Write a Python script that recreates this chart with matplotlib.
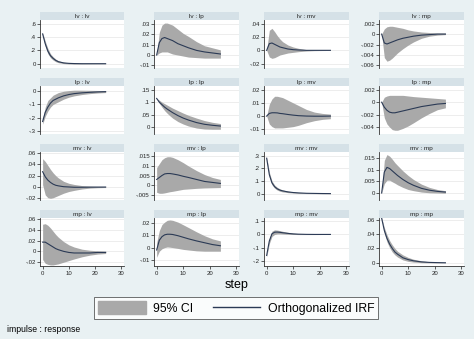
import matplotlib
matplotlib.use('Agg')
import matplotlib.pyplot as plt
import matplotlib.ticker as ticker
from matplotlib.patches import Patch
from matplotlib.lines import Line2D

plt.rcParams['font.family'] = ['Liberation Sans', 'DejaVu Sans']

steps = [0, 1, 2, 3, 4, 5, 6, 8, 10, 12, 15, 18, 21, 24]

# impulse : response panels (row by row)
panel_names = ['lv : lv', 'lv : lp', 'lv : mv', 'lv : mp',
               'lp : lv', 'lp : lp', 'lp : mv', 'lp : mp',
               'mv : lv', 'mv : lp', 'mv : mv', 'mv : mp',
               'mp : lv', 'mp : lp', 'mp : mv', 'mp : mp']

# row 1
lv_lv_irf = [0.45, 0.30, 0.19, 0.12, 0.08, 0.05, 0.03, 0.012, 0.005, 0.002, 0, 0, 0, 0]
lv_lv_lo = [0.43, 0.26, 0.15, 0.09, 0.055, 0.03, 0.015, 0.002, -0.004, -0.005, -0.004, -0.003, -0.002, -0.002]
lv_lv_hi = [0.47, 0.34, 0.23, 0.15, 0.105, 0.07, 0.045, 0.022, 0.012, 0.008, 0.005, 0.004, 0.003, 0.002]

lv_lp_irf = [0, 0.012, 0.016, 0.017, 0.016, 0.015, 0.014, 0.011, 0.009, 0.007, 0.0045, 0.003, 0.002, 0.001]
lv_lp_lo = [0, 0.002, 0.003, 0.003, 0.003, 0.002, 0.001, 0, -0.001, -0.002, -0.0025, -0.003, -0.003, -0.003]
lv_lp_hi = [0, 0.022, 0.029, 0.031, 0.031, 0.030, 0.029, 0.025, 0.021, 0.018, 0.013, 0.009, 0.007, 0.005]

lv_mv_irf = [0, 0.010, 0.011, 0.009, 0.007, 0.005, 0.004, 0.002, 0.001, 0.0005, 0, 0, 0, 0]
lv_mv_lo = [0, -0.010, -0.012, -0.011, -0.009, -0.007, -0.006, -0.004, -0.003, -0.002, -0.001, -0.0005, -0.0003, -0.0002]
lv_mv_hi = [0, 0.030, 0.033, 0.028, 0.022, 0.017, 0.013, 0.008, 0.005, 0.003, 0.001, 0.0005, 0.0003, 0.0002]

lv_mp_irf = [0, -0.0017, -0.0019, -0.0017, -0.0015, -0.0013, -0.0011, -0.0008, -0.0006, -0.0004, -0.0002, -0.0001, 0, 0]
lv_mp_lo = [0, -0.0045, -0.0052, -0.0050, -0.0046, -0.0041, -0.0036, -0.0028, -0.0021, -0.0015, -0.0008, -0.0004, -0.0002, -0.0001]
lv_mp_hi = [0, 0.0010, 0.0014, 0.0015, 0.0015, 0.0014, 0.0013, 0.0011, 0.0008, 0.0006, 0.0004, 0.0003, 0.0002, 0.0002]

# row 2
lp_lv_irf = [-0.23, -0.16, -0.12, -0.09, -0.07, -0.06, -0.05, -0.035, -0.025, -0.018, -0.012, -0.008, -0.005, -0.003]
lp_lv_lo = [-0.25, -0.19, -0.15, -0.12, -0.10, -0.09, -0.08, -0.06, -0.045, -0.035, -0.025, -0.018, -0.013, -0.010]
lp_lv_hi = [-0.21, -0.12, -0.07, -0.05, -0.03, -0.02, -0.01, 0, 0.005, 0.008, 0.008, 0.007, 0.006, 0.005]

lp_lp_irf = [0.115, 0.100, 0.090, 0.080, 0.072, 0.065, 0.058, 0.046, 0.036, 0.028, 0.018, 0.011, 0.007, 0.004]
lp_lp_lo = [0.115, 0.095, 0.080, 0.066, 0.055, 0.045, 0.036, 0.022, 0.012, 0.004, -0.004, -0.008, -0.009, -0.009]
lp_lp_hi = [0.115, 0.108, 0.100, 0.094, 0.088, 0.082, 0.076, 0.066, 0.056, 0.047, 0.036, 0.026, 0.019, 0.014]

lp_mv_irf = [0, 0.002, 0.0025, 0.0025, 0.0024, 0.002, 0.0018, 0.0012, 0.0007, 0.0003, 0, -0.0001, -0.0001, 0]
lp_mv_lo = [0, -0.006, -0.008, -0.009, -0.009, -0.009, -0.009, -0.0085, -0.008, -0.007, -0.005, -0.0035, -0.0025, -0.002]
lp_mv_hi = [0, 0.009, 0.013, 0.015, 0.015, 0.0145, 0.014, 0.012, 0.010, 0.008, 0.005, 0.003, 0.002, 0.0015]

lp_mp_irf = [0, -0.0008, -0.0013, -0.0016, -0.0017, -0.0017, -0.0016, -0.0014, -0.0012, -0.0010, -0.0007, -0.0005, -0.0003, -0.0002]
lp_mp_lo = [0, -0.0025, -0.0035, -0.0040, -0.0044, -0.0045, -0.0045, -0.0042, -0.0038, -0.0033, -0.0025, -0.0018, -0.0012, -0.0009]
lp_mp_hi = [0, 0.0008, 0.0010, 0.0011, 0.0011, 0.0011, 0.0011, 0.0011, 0.0010, 0.0009, 0.0008, 0.0007, 0.0006, 0.0005]

# row 3
mv_lv_irf = [0.027, 0.018, 0.012, 0.008, 0.005, 0.003, 0.002, 0.0005, 0, -0.0005, -0.0005, -0.0003, -0.0002, -0.0001]
mv_lv_lo = [0.004, -0.014, -0.019, -0.020, -0.019, -0.017, -0.015, -0.011, -0.008, -0.006, -0.0035, -0.002, -0.0013, -0.001]
mv_lv_hi = [0.050, 0.045, 0.038, 0.031, 0.025, 0.020, 0.016, 0.010, 0.0065, 0.0045, 0.0025, 0.0015, 0.001, 0.0007]

mv_lp_irf = [0.003, 0.004, 0.005, 0.0058, 0.006, 0.006, 0.0058, 0.0053, 0.0046, 0.004, 0.003, 0.002, 0.0015, 0.001]
mv_lp_lo = [-0.0035, -0.004, -0.004, -0.0038, -0.0035, -0.0032, -0.003, -0.0025, -0.002, -0.0018, -0.0015, -0.0013, -0.0012, -0.0011]
mv_lp_hi = [0.009, 0.011, 0.013, 0.014, 0.0145, 0.0145, 0.0142, 0.013, 0.0115, 0.0098, 0.0075, 0.0055, 0.004, 0.003]

mv_mv_irf = [0.28, 0.15, 0.085, 0.055, 0.038, 0.028, 0.022, 0.014, 0.009, 0.006, 0.003, 0.002, 0.001, 0.0005]
mv_mv_lo = [0.27, 0.13, 0.070, 0.043, 0.028, 0.019, 0.014, 0.008, 0.005, 0.003, 0.001, 0.0005, 0, 0]
mv_mv_hi = [0.29, 0.17, 0.100, 0.068, 0.050, 0.038, 0.030, 0.020, 0.014, 0.010, 0.006, 0.004, 0.0025, 0.0015]

mv_mp_irf = [0, 0.009, 0.011, 0.0105, 0.0095, 0.0085, 0.0075, 0.0058, 0.0044, 0.0033, 0.002, 0.0012, 0.0007, 0.0004]
mv_mp_lo = [0, 0.004, 0.0055, 0.0055, 0.0048, 0.0042, 0.0035, 0.0024, 0.0015, 0.001, 0.0004, 0.0001, 0, -0.0001]
mv_mp_hi = [0, 0.014, 0.0165, 0.0158, 0.0145, 0.013, 0.0118, 0.0095, 0.0075, 0.0058, 0.0038, 0.0024, 0.0015, 0.001]

# row 4
mp_lv_irf = [0.017, 0.017, 0.014, 0.011, 0.008, 0.005, 0.003, 0, -0.002, -0.003, -0.003, -0.003, -0.002, -0.002]
mp_lv_lo = [-0.015, -0.022, -0.024, -0.025, -0.025, -0.024, -0.023, -0.020, -0.017, -0.014, -0.010, -0.007, -0.005, -0.004]
mp_lv_hi = [0.050, 0.051, 0.048, 0.043, 0.037, 0.031, 0.026, 0.018, 0.012, 0.008, 0.004, 0.002, 0.001, 0.0005]

mp_lp_irf = [-0.002, 0.006, 0.009, 0.0105, 0.011, 0.011, 0.0108, 0.0098, 0.0085, 0.0072, 0.0055, 0.004, 0.0025, 0.0015]
mp_lp_lo = [-0.008, -0.003, -0.001, 0, 0.0005, 0.0003, 0, -0.0007, -0.0015, -0.002, -0.0027, -0.003, -0.003, -0.003]
mp_lp_hi = [0.004, 0.014, 0.019, 0.021, 0.0225, 0.0228, 0.0225, 0.021, 0.0188, 0.0165, 0.013, 0.0098, 0.0072, 0.0055]

mp_mv_irf = [-0.16, -0.05, 0.005, 0.017, 0.018, 0.016, 0.013, 0.008, 0.004, 0.002, 0.0005, 0, 0, 0]
mp_mv_lo = [-0.17, -0.07, -0.015, 0, 0.004, 0.004, 0.003, 0.001, 0, -0.001, -0.001, -0.001, -0.0005, -0.0005]
mp_mv_hi = [-0.15, -0.03, 0.025, 0.035, 0.033, 0.029, 0.024, 0.016, 0.010, 0.006, 0.003, 0.0015, 0.001, 0.0005]

mp_mp_irf = [0.062, 0.045, 0.034, 0.026, 0.020, 0.015, 0.012, 0.007, 0.0045, 0.0028, 0.0013, 0.0006, 0.0003, 0.0001]
mp_mp_lo = [0.061, 0.041, 0.029, 0.021, 0.015, 0.011, 0.008, 0.004, 0.002, 0.001, 0.0002, 0, 0, 0]
mp_mp_hi = [0.063, 0.049, 0.039, 0.031, 0.025, 0.020, 0.016, 0.011, 0.0075, 0.005, 0.0028, 0.0015, 0.0008, 0.0004]

irfs = [lv_lv_irf, lv_lp_irf, lv_mv_irf, lv_mp_irf, lp_lv_irf, lp_lp_irf, lp_mv_irf, lp_mp_irf,
        mv_lv_irf, mv_lp_irf, mv_mv_irf, mv_mp_irf, mp_lv_irf, mp_lp_irf, mp_mv_irf, mp_mp_irf]
lows = [lv_lv_lo, lv_lp_lo, lv_mv_lo, lv_mp_lo, lp_lv_lo, lp_lp_lo, lp_mv_lo, lp_mp_lo,
        mv_lv_lo, mv_lp_lo, mv_mv_lo, mv_mp_lo, mp_lv_lo, mp_lp_lo, mp_mv_lo, mp_mp_lo]
highs = [lv_lv_hi, lv_lp_hi, lv_mv_hi, lv_mp_hi, lp_lv_hi, lp_lp_hi, lp_mv_hi, lp_mp_hi,
         mv_lv_hi, mv_lp_hi, mv_mv_hi, mv_mp_hi, mp_lv_hi, mp_lp_hi, mp_mv_hi, mp_mp_hi]

# y ticks of each panel
yticks = [[0, .2, .4, .6], [-.01, 0, .01, .02, .03], [-.02, 0, .02, .04], [-.006, -.004, -.002, 0, .002],
          [-.3, -.2, -.1, 0], [0, .05, .1, .15], [-.01, 0, .01, .02], [-.004, -.002, 0, .002],
          [-.02, 0, .02, .04, .06], [-.005, 0, .005, .01, .015], [0, .1, .2, .3], [0, .005, .01, .015],
          [-.02, 0, .02, .04, .06], [-.01, 0, .01, .02], [-.2, -.1, 0, .1], [0, .02, .04, .06]]
ylims = [(-0.065, 0.66), (-0.0126, 0.034), (-0.0265, 0.0455), (-0.0065, 0.0027),
         (-0.325, 0.04), (-0.028, 0.165), (-0.0136, 0.0228), (-0.0051, 0.0026),
         (-0.023, 0.0618), (-0.0074, 0.0169), (-0.05, 0.329), (-0.003, 0.0176),
         (-0.027, 0.0615), (-0.0152, 0.0244), (-0.24, 0.125), (-0.0044, 0.0623)]
xticks = [0, 10, 20, 30]

W, H = 474, 339
bg = '#e9f1f3'
strip_col = '#d5e1e7'
band_col = '#a9a9a9'
line_col = '#2b3a55'

fig = plt.figure(figsize=(W / 100, H / 100), dpi=100, facecolor=bg)

col_x = [(40, 124), (154, 239), (264, 349), (379, 464)]
row_y = [(12, 20, 68), (78, 86, 134), (144, 152, 200), (210, 218, 266)]


def stata_fmt(v, pos):
    if abs(v) < 1e-12:
        return '0'
    s = ('%g' % v)
    return s.replace('0.', '.')


for i, name in enumerate(panel_names):
    r, c = divmod(i, 4)
    x0, x1 = col_x[c]
    st, pt, pb = row_y[r]
    # strip
    sax = fig.add_axes([x0 / W, 1 - pt / H, (x1 - x0) / W, (pt - st) / H])
    sax.set_facecolor(strip_col)
    sax.set_xticks([])
    sax.set_yticks([])
    for sp in sax.spines.values():
        sp.set_visible(False)
    sax.text(0.5, 0.45, name, ha='center', va='center', fontsize=4.6, color='#222222',
             transform=sax.transAxes)
    # plot
    ax = fig.add_axes([x0 / W, 1 - pb / H, (x1 - x0) / W, (pb - pt) / H])
    ax.set_facecolor('white')
    ax.fill_between(steps, lows[i], highs[i], color=band_col, linewidth=0)
    ax.plot(steps, irfs[i], color=line_col, linewidth=0.8)
    ax.set_xlim(-1, 31)
    ax.set_ylim(*ylims[i])
    ax.set_yticks(yticks[i])
    ax.yaxis.set_major_formatter(ticker.FuncFormatter(stata_fmt))
    ax.grid(axis='y', color='#e6e6e6', linewidth=0.5)
    ax.set_axisbelow(True)
    ax.tick_params(axis='y', labelsize=4.3, length=2, width=0.5, pad=1, colors='#222222')
    for k in ['top', 'right']:
        ax.spines[k].set_visible(False)
    ax.spines['left'].set_linewidth(0.6)
    ax.spines['left'].set_color('#333333')
    if r == 3:
        ax.set_xticks(xticks)
        ax.tick_params(axis='x', labelsize=4.3, length=2, width=0.5, pad=1.5, colors='#222222')
        ax.spines['bottom'].set_linewidth(0.6)
        ax.spines['bottom'].set_color('#333333')
    else:
        ax.set_xticks([])
        ax.spines['bottom'].set_visible(False)

fig.text(237 / W, 1 - 285 / H, 'step', ha='center', va='center', fontsize=9)

handles = [Patch(facecolor=band_col, edgecolor=band_col, label='95% CI'),
           Line2D([], [], color=line_col, linewidth=1.0, label='Orthogonalized IRF')]
leg = fig.legend(handles=handles, loc='center', bbox_to_anchor=(236 / W, 1 - 308 / H),
                 ncol=2, frameon=True, fontsize=8.8, handlelength=3.9, handleheight=1.3,
                 columnspacing=1.6, handletextpad=0.6, borderpad=0.35, fancybox=False)
leg.get_frame().set_edgecolor('#333333')
leg.get_frame().set_linewidth(0.6)

fig.text(7 / W, 1 - 330 / H, 'impulse : response', ha='left', va='center', fontsize=6.2)

fig.savefig('out.png', dpi=100, facecolor=bg)
